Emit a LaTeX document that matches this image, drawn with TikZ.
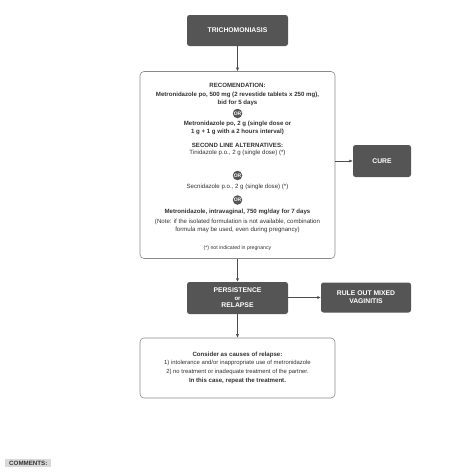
\documentclass[tikz,border=0pt]{standalone}
\usepackage{fontspec}
\setmainfont{Liberation Sans}
\usetikzlibrary{arrows.meta}
\definecolor{boxgrey}{HTML}{555555}
\definecolor{linegrey}{HTML}{8A8A8A}
\definecolor{txt}{HTML}{333333}
\begin{document}
\begin{tikzpicture}[x=1pt,y=-1pt,
  darkbox/.style={draw=none,fill=boxgrey,rounded corners=2.5pt,text=white,font=\fontsize{6.8}{8}\selectfont\bfseries,align=center,inner sep=0pt},
  lightbox/.style={draw=linegrey,line width=0.6pt,rounded corners=4pt,fill=white},
  orcirc/.style={circle,fill=boxgrey,text=white,font=\fontsize{5}{5}\selectfont\bfseries,inner sep=0pt,minimum size=9.5pt},
  tx/.style={font=\fontsize{6.1}{8}\selectfont,text=txt,align=center,inner sep=0pt},
  tb/.style={tx,font=\fontsize{6.1}{8}\selectfont\bfseries},
  conn/.style={draw=black!70,line width=0.5pt,-{Latex[length=3.5pt,width=3pt]}}]
\useasboundingbox (0,0) rectangle (474,474);
% boxes
\node[darkbox,minimum width=101pt,minimum height=31pt] (tri) at (237.5,30.5) {TRICHOMONIASIS};
\node[lightbox,minimum width=195pt,minimum height=187pt] (main) at (237.5,165) {};
\node[darkbox,minimum width=58pt,minimum height=32pt] (cure) at (382,161) {CURE};
\node[darkbox,minimum width=101pt,minimum height=32pt] (pers) at (237.5,298) {PERSISTENCE\\[-0.5pt]{\fontsize{6}{7}\selectfont or}\\[-0.5pt]RELAPSE};
\node[darkbox,minimum width=90pt,minimum height=30pt] (rule) at (366,297.5) {RULE OUT MIXED\\VAGINITIS};
\node[lightbox,minimum width=195pt,minimum height=60pt] (cons) at (237.5,368) {};
% main box text
\node[tb] (t1) at (237.5,85) {RECOMENDATION:};
\node[tb] (t2) at (237.5,99) {Metronidazole po, 500 mg (2 revestide tablets x 250 mg),\\bid for 5 days};
\node[orcirc] (or1) at (237.5,113.5) {OR};
\node[tb] (t3) at (237.5,128) {Metronidazole po, 2 g (single dose or\\1 g + 1 g with a 2 hours interval)};
\node[tb] (t4) at (237.5,145) {SECOND LINE ALTERNATIVES:};
\node[tx] (t5) at (237.5,153) {Tinidazole p.o., 2 g (single dose) (*)};
\node[orcirc] (or2) at (237.5,175.5) {OR};
\node[tx] (t6) at (237.5,187) {Secnidazole p.o., 2 g (single dose) (*)};
\node[orcirc] (or3) at (237.5,200) {OR};
\node[tb] (t7) at (237.5,212) {Metronidazole, intravaginal, 750 mg/day for 7 days};
\node[tx] (t8) at (237.5,226) {(Note: if the isolated formulation is not available, combination\\formula may be used, even during pregnancy)};
\node[tx,font=\fontsize{5.2}{6}\selectfont] (t9) at (237.5,248) {(*) not indicated in pregnancy};
% consider text
\node[tb] (c1) at (237.5,355) {Consider as causes of relapse:};
\node[tx,font=\fontsize{5.9}{8.5}\selectfont] (c2) at (237.5,367.5) {1) intolerance and/or inappropriate use of metronidazole\\2) no treatment or inadequate treatment of the partner.};
\node[tb] (c3) at (237.5,381) {In this case, repeat the treatment.};
% comments
\node[fill=black!15,font=\fontsize{6.2}{7}\selectfont\bfseries,text=black!80,inner xsep=4pt,inner ysep=1.5pt,anchor=west] (com) at (5,463) {COMMENTS:};
% connectors
\draw[conn] (tri) -- (main);
\draw[conn] (main.south) -- (pers.north);
\draw[conn] (pers.south) -- (cons.north);
\draw[conn] (main.east |- cure.west) -- (cure.west);
\draw[conn] (pers.east |- rule.west) -- (rule.west);
\end{tikzpicture}
\end{document}
